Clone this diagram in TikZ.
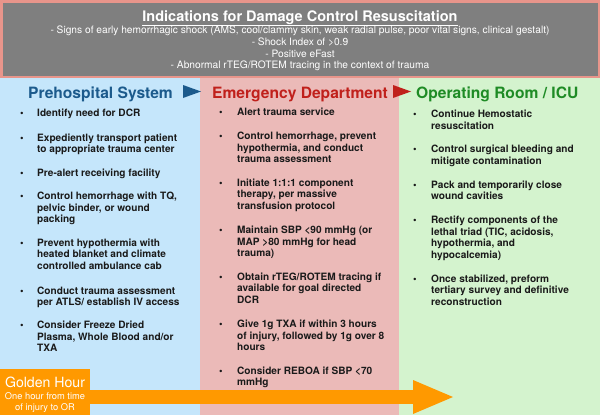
\documentclass[tikz,border=0pt]{standalone}
\usepackage{fontspec}
\setmainfont{TeX Gyre Heros}
\definecolor{hdrborder}{HTML}{E8958B}
\definecolor{hdrgray}{HTML}{7F7F7F}
\definecolor{colblue}{HTML}{C5E6FB}
\definecolor{colpink}{HTML}{EBBAB8}
\definecolor{colgreen}{HTML}{D4F3CE}
\definecolor{headblue}{HTML}{1B5A8C}
\definecolor{headred}{HTML}{C0201B}
\definecolor{headgreen}{HTML}{1E8B25}
\definecolor{orng}{HTML}{FF9900}
\definecolor{txt}{HTML}{1A1A1A}
\newcommand\itmlines[1]{\begin{tabular}[t]{@{}l@{}}#1\end{tabular}}
\newcommand\ctrlines[1]{\begin{tabular}[t]{@{}c@{}}#1\end{tabular}}
\begin{document}
\begin{tikzpicture}[x=1pt,y=-1pt,
  item/.style={anchor=base west, inner sep=0pt, text=txt,
    font=\fontsize{10.1}{11.7}\selectfont\bfseries},
  dot/.style={anchor=base, inner sep=0pt, text=txt,
    font=\fontsize{10.1}{11.7}\selectfont\bfseries},
  colhead/.style={anchor=base west, inner sep=0pt,
    font=\fontsize{15.6}{18}\selectfont\bfseries},
  hline/.style={anchor=base, inner sep=0pt, text=white,
    font=\fontsize{10.2}{11.5}\selectfont}]
\useasboundingbox (0,0) rectangle (600,415);
% header
\fill[hdrborder] (0,0) rectangle (600,78);
\fill[hdrgray] (2.5,2.5) rectangle (597.5,75.5);
% columns
\fill[colblue] (0,78) rectangle (200,415);
\fill[colpink] (200,78) rectangle (399,415);
\fill[colgreen] (399,78) rectangle (600,415);
% header text
\node[anchor=base, inner sep=0pt, text=white, font=\fontsize{14.5}{17}\selectfont\bfseries] (title) at (300,21) {\underline{Indications for Damage Control Resuscitation}};
\node[hline] (h1) at (300,33.8) {- Signs of early hemorrhagic shock (AMS, cool/clammy skin, weak radial pulse, poor vital signs, clinical gestalt)};
\node[hline] (h2) at (300,45.5) {- Shock Index of >0.9};
\node[hline] (h3) at (300,57.2) {- Positive eFast};
\node[hline] (h4) at (300,68.9) {- Abnormal rTEG/ROTEM tracing in the context of trauma};
% column headings
\node[colhead, text=headblue] (ph) at (28,98.6) {Prehospital System};
\node[colhead, text=headred] (ed) at (212,98.6) {Emergency Department};
\node[colhead, text=headgreen] (or) at (416,98.6) {Operating Room / ICU};
\fill[headblue] (183,85) -- (201,91.5) -- (183,98) -- cycle;
\fill[headred] (393,85) -- (411,91.5) -- (393,98) -- cycle;
% blue column
\foreach \y/\t [count=\i] in {
  116.5/{Identify need for DCR},
  141/{Expediently transport patient\\to appropriate trauma center},
  176/{Pre-alert receiving facility},
  199.5/{Control hemorrhage with TQ,\\pelvic binder, or wound\\packing},
  246/{Prevent hypothermia with\\heated blanket and climate\\controlled ambulance cab},
  294/{Conduct trauma assessment\\per ATLS/ establish IV access},
  328.5/{Consider Freeze Dried\\Plasma, Whole Blood and/or\\TXA}}
{
  \node[dot] (pb\i) at (22,\y) {•};
  \node[item] (pt\i) at (37,\y) {\itmlines{\t}};
}
% red column
\foreach \y/\t [count=\i] in {
  115/{Alert trauma service},
  139.5/{Control hemorrhage, prevent\\hypothermia, and conduct\\trauma assessment},
  186/{Initiate 1:1:1 component\\therapy, per massive\\transfusion protocol},
  233.5/{Maintain SBP <90 mmHg (or\\MAP >80 mmHg for head\\trauma)},
  280/{Obtain rTEG/ROTEM tracing if\\available for goal directed\\DCR},
  327.5/{Give 1g TXA if within 3 hours\\of injury, followed by 1g over 8\\hours},
  374/{Consider REBOA if SBP <70\\mmHg}}
{
  \node[dot] (eb\i) at (221,\y) {•};
  \node[item] (et\i) at (237,\y) {\itmlines{\t}};
}
% green column
\foreach \y/\t [count=\i] in {
  117.5/{Continue Hemostatic\\resuscitation},
  152.5/{Control surgical bleeding and\\mitigate contamination},
  188/{Pack and temporarily close\\wound cavities},
  223.5/{Rectify components of the\\lethal triad (TIC, acidosis,\\hypothermia, and\\hypocalcemia)},
  282/{Once stabilized, preform\\tertiary survey and definitive\\reconstruction}}
{
  \node[dot] (ob\i) at (415,\y) {•};
  \node[item] (ot\i) at (431,\y) {\itmlines{\t}};
}
% golden hour
\node[fill=orng, minimum width=90pt, minimum height=46pt, inner sep=0pt, anchor=north west] (gh) at (0,369) {};
\node[anchor=base, inner sep=0pt, text=white, font=\fontsize{14.1}{16}\selectfont] (ghtitle) at (45,387) {Golden Hour};
\node[anchor=base, inner sep=0pt, text=white, font=\fontsize{9.3}{10.7}\selectfont] (ghsub) at (45,399.5) {\ctrlines{One hour from time\\of injury to OR}};
\coordinate (tip) at (453,397);
\fill[orng] (gh.east |- 0,390) rectangle (413.5,404);
\fill[orng] (413,380) -- (tip) -- (413,414) -- cycle;
\end{tikzpicture}
\end{document}
